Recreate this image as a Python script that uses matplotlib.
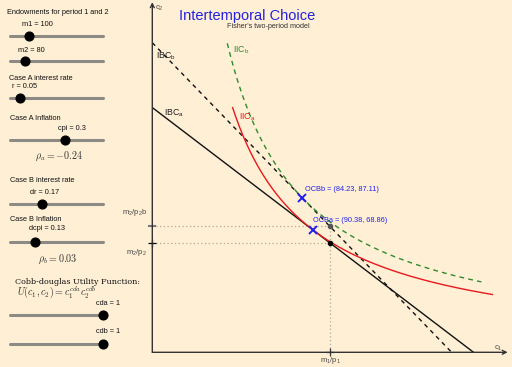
import numpy as np
import matplotlib
matplotlib.use("Agg")
import matplotlib.pyplot as plt

# ---- data ----
m1 = 100.0
m2 = 80.0
r_a = 0.05
cpi_a = 0.3
r_b = 0.17
cpi_b = 0.13
rho_a = -0.2381   # real rate case A (shown as -0.24)
rho_b = 0.0342    # real rate case B (shown as 0.03)
cda = 1
cdb = 1
ocb_a = (90.38, 68.86)
ocb_b = (84.23, 87.11)
iic_a_c1_range = (45.2, 191.4)
iic_b_c1_range = (42.2, 185.2)

BG = "#FFEFD5"
W, H = 512, 367
fig = plt.figure(figsize=(W / 100, H / 100), dpi=100, facecolor=BG)

# overlay axes in pixel coordinates for the slider panel and free text
ov = fig.add_axes([0, 0, 1, 1], facecolor="none", zorder=5)
ov.set_xlim(0, W)
ov.set_ylim(H, 0)
ov.axis("off")

# main plot axes
x0, y0 = 152.3, 352.3
sc = 1.777
xmax, ymax = 200.0, 197.0
ax = fig.add_axes([x0 / W, (H - y0) / H, xmax * sc / W, ymax * sc / H], facecolor="none")
ax.set_xlim(0, xmax)
ax.set_ylim(0, ymax)
ax.axis("off")

p1 = 1.0
p2a = 1 + cpi_a
p2b = 1 + cpi_b
ya = m2 / p2a
yb = m2 / p2b

# axes with arrows
ax.annotate("", xy=(xmax, 0), xytext=(0, 0), xycoords="data",
            arrowprops=dict(arrowstyle="->", color="#333333", lw=1.0, shrinkA=0, shrinkB=0,
                            mutation_scale=7), annotation_clip=False)
ax.annotate("", xy=(0, ymax), xytext=(0, 0), xycoords="data",
            arrowprops=dict(arrowstyle="->", color="#333333", lw=1.0, shrinkA=0, shrinkB=0,
                            mutation_scale=7), annotation_clip=False)

# dotted guide lines
dc = "#B0A898"
ax.plot([0, m1 / p1], [ya, ya], ls=(0, (1, 2)), color=dc, lw=0.9)
ax.plot([0, m1 / p1], [yb, yb], ls=(0, (1, 2)), color=dc, lw=0.9)
ax.plot([m1 / p1, m1 / p1], [0, yb], ls=(0, (1, 2)), color=dc, lw=0.9)

# budget lines
wa = m1 / p1 + ya / (1 + rho_a)
wb = m1 / p1 + yb / (1 + rho_b)
ax.plot([0, wa], [ya + (1 + rho_a) * m1, 0], color="#111111", lw=1.0)
ax.plot([0, wb], [yb + (1 + rho_b) * m1, 0], color="#111111", lw=1.0, ls=(0, (3, 3)))

# indifference curves
ua = ocb_a[0] * ocb_a[1]
ub = ocb_b[0] * ocb_b[1]
c1a = np.linspace(*iic_a_c1_range, 300)
c1b = np.linspace(*iic_b_c1_range, 300)
ax.plot(c1a, ua / c1a, color="#E8191E", lw=1.0)
ax.plot(c1b, ub / c1b, color="#2E8B2E", lw=1.0, ls=(0, (3.5, 3)))

# points
ax.plot([m1 / p1], [ya], "o", color="black", ms=3)
ax.plot([m1 / p1], [yb], "o", color="#555555", ms=3)
ax.plot([ocb_a[0], ocb_b[0]], [ocb_a[1], ocb_b[1]], "x", color="#2222EE", ms=6, mew=1.4)

# ticks on axes
ax.plot([0], [ya], "+", color="black", ms=6, mew=0.9, clip_on=False)
ax.plot([0], [yb], "_", color="#777777", ms=6, mew=1.5, clip_on=False)
ax.plot([m1 / p1], [0], "+", color="#333333", ms=6, mew=0.9, clip_on=False)

# point labels
ax.text(ocb_b[0] + 1.7, ocb_b[1] + 4.6, f"OCBb = ({ocb_b[0]:.2f}, {ocb_b[1]:.2f})",
        color="#2222EE", fontsize=5.3, va="center", ha="left", family="Liberation Sans")
ax.text(ocb_a[0] + 0.0, ocb_a[1] + 5.5, f"OCBa = ({ocb_a[0]:.2f}, {ocb_a[1]:.2f})",
        color="#2222EE", fontsize=5.3, va="center", ha="left", family="Liberation Sans")

# curve labels (pixel coords)
def lab(x, y, s, c, fs=6.3):
    ov.text(x, y, s, color=c, fontsize=fs, ha="left", va="center", family="Liberation Sans")

lab(156, 56, r"IBC$_\mathregular{b}$", "#222222")
lab(164, 113, r"IBC$_\mathregular{a}$", "#222222")
lab(233, 50, r"IIC$_\mathregular{b}$", "#2E8B2E")
lab(239, 117, r"IIC$_\mathregular{a}$", "#E8191E")
lab(155, 8, r"c$_\mathregular{2}$", "#444444", 5.5)
lab(494, 348, r"c$_\mathregular{1}$", "#444444", 5.5)

ov.text(147, 213, r"m$_\mathregular{2}$/p$_\mathregular{2}$b", fontsize=5.5, ha="right", va="center",
        color="#444444", family="Liberation Sans")
ov.text(147, 252, r"m$_\mathregular{2}$/p$_\mathregular{2}$", fontsize=5.5, ha="right", va="center",
        color="#444444", family="Liberation Sans")
ov.text(330, 361, r"m$_\mathregular{1}$/p$_\mathregular{1}$", fontsize=5.5, ha="center", va="center",
        color="#444444", family="Liberation Sans")

# title
ov.text(247, 20, "Intertemporal Choice", color="#2222DD", fontsize=10.5, ha="center", va="baseline",
        family="Liberation Sans")
ov.text(268, 28, "Fisher's two-period model", color="#333333", fontsize=5.2, ha="center", va="baseline",
        family="Liberation Sans")

# ---- slider panel ----
track_c = "#8C8A84"
sliders = [
    # (label, label_x, label_y, track_y, knob_x)
    (f"m1 = {m1:g}", 22, 24.3, 35.7, 29),
    (f"m2 = {m2:g}", 18, 50, 61, 25),
    (f"r = {r_a:g}", 12, 87, 97.7, 20),
    (f"cpi = {cpi_a:g}", 58, 128, 140, 65),
    (f"dr = {r_b:g}", 30, 192.7, 204, 41.7),
    (f"dcpi = {cpi_b:g}", 29, 229, 241.7, 35),
    (f"cda = {cda:g}", 96, 303.3, 315, 103.3),
    (f"cdb = {cdb:g}", 96, 331.7, 344.3, 103.3),
]
for text, lx, ly, ty, kx in sliders:
    ov.plot([10, 103], [ty, ty], color=track_c, lw=2.2, solid_capstyle="round")
    ov.plot([kx], [ty], "o", color="black", ms=6.3)
    ov.text(lx, ly, text, fontsize=5.3, ha="left", va="center", color="#111111", family="Liberation Sans")

heads = [
    ("Endowments for period 1 and 2", 7, 12.3),
    ("Case A interest rate", 8.7, 78.7),
    ("Case A Inflation", 10, 118),
    ("Case B interest rate", 10, 181),
    ("Case B Inflation", 10, 219.3),
]
for s, x, y in heads:
    ov.text(x, y, s, fontsize=5.3, ha="left", va="center", color="#111111", family="Liberation Sans")

ov.text(35, 156.7, rf"$\rho_a = {rho_a:.2f}$", fontsize=7.2, ha="left", va="center",
        color="#333333", math_fontfamily="cm")
ov.text(38, 259, rf"$\rho_b = {rho_b:.2f}$", fontsize=7.2, ha="left", va="center",
        color="#333333", math_fontfamily="cm")
ov.text(15, 281.7, "Cobb-douglas Utility Function:", fontsize=5.8, ha="left", va="center",
        color="#111111", family="DejaVu Serif")
ov.text(17, 293, r"$U(c_1, c_2) = c_1^{cda} c_2^{cdb}$", fontsize=7.2, ha="left", va="center",
        color="#333333", math_fontfamily="cm")

fig.savefig("out.png", dpi=100, facecolor=BG)
